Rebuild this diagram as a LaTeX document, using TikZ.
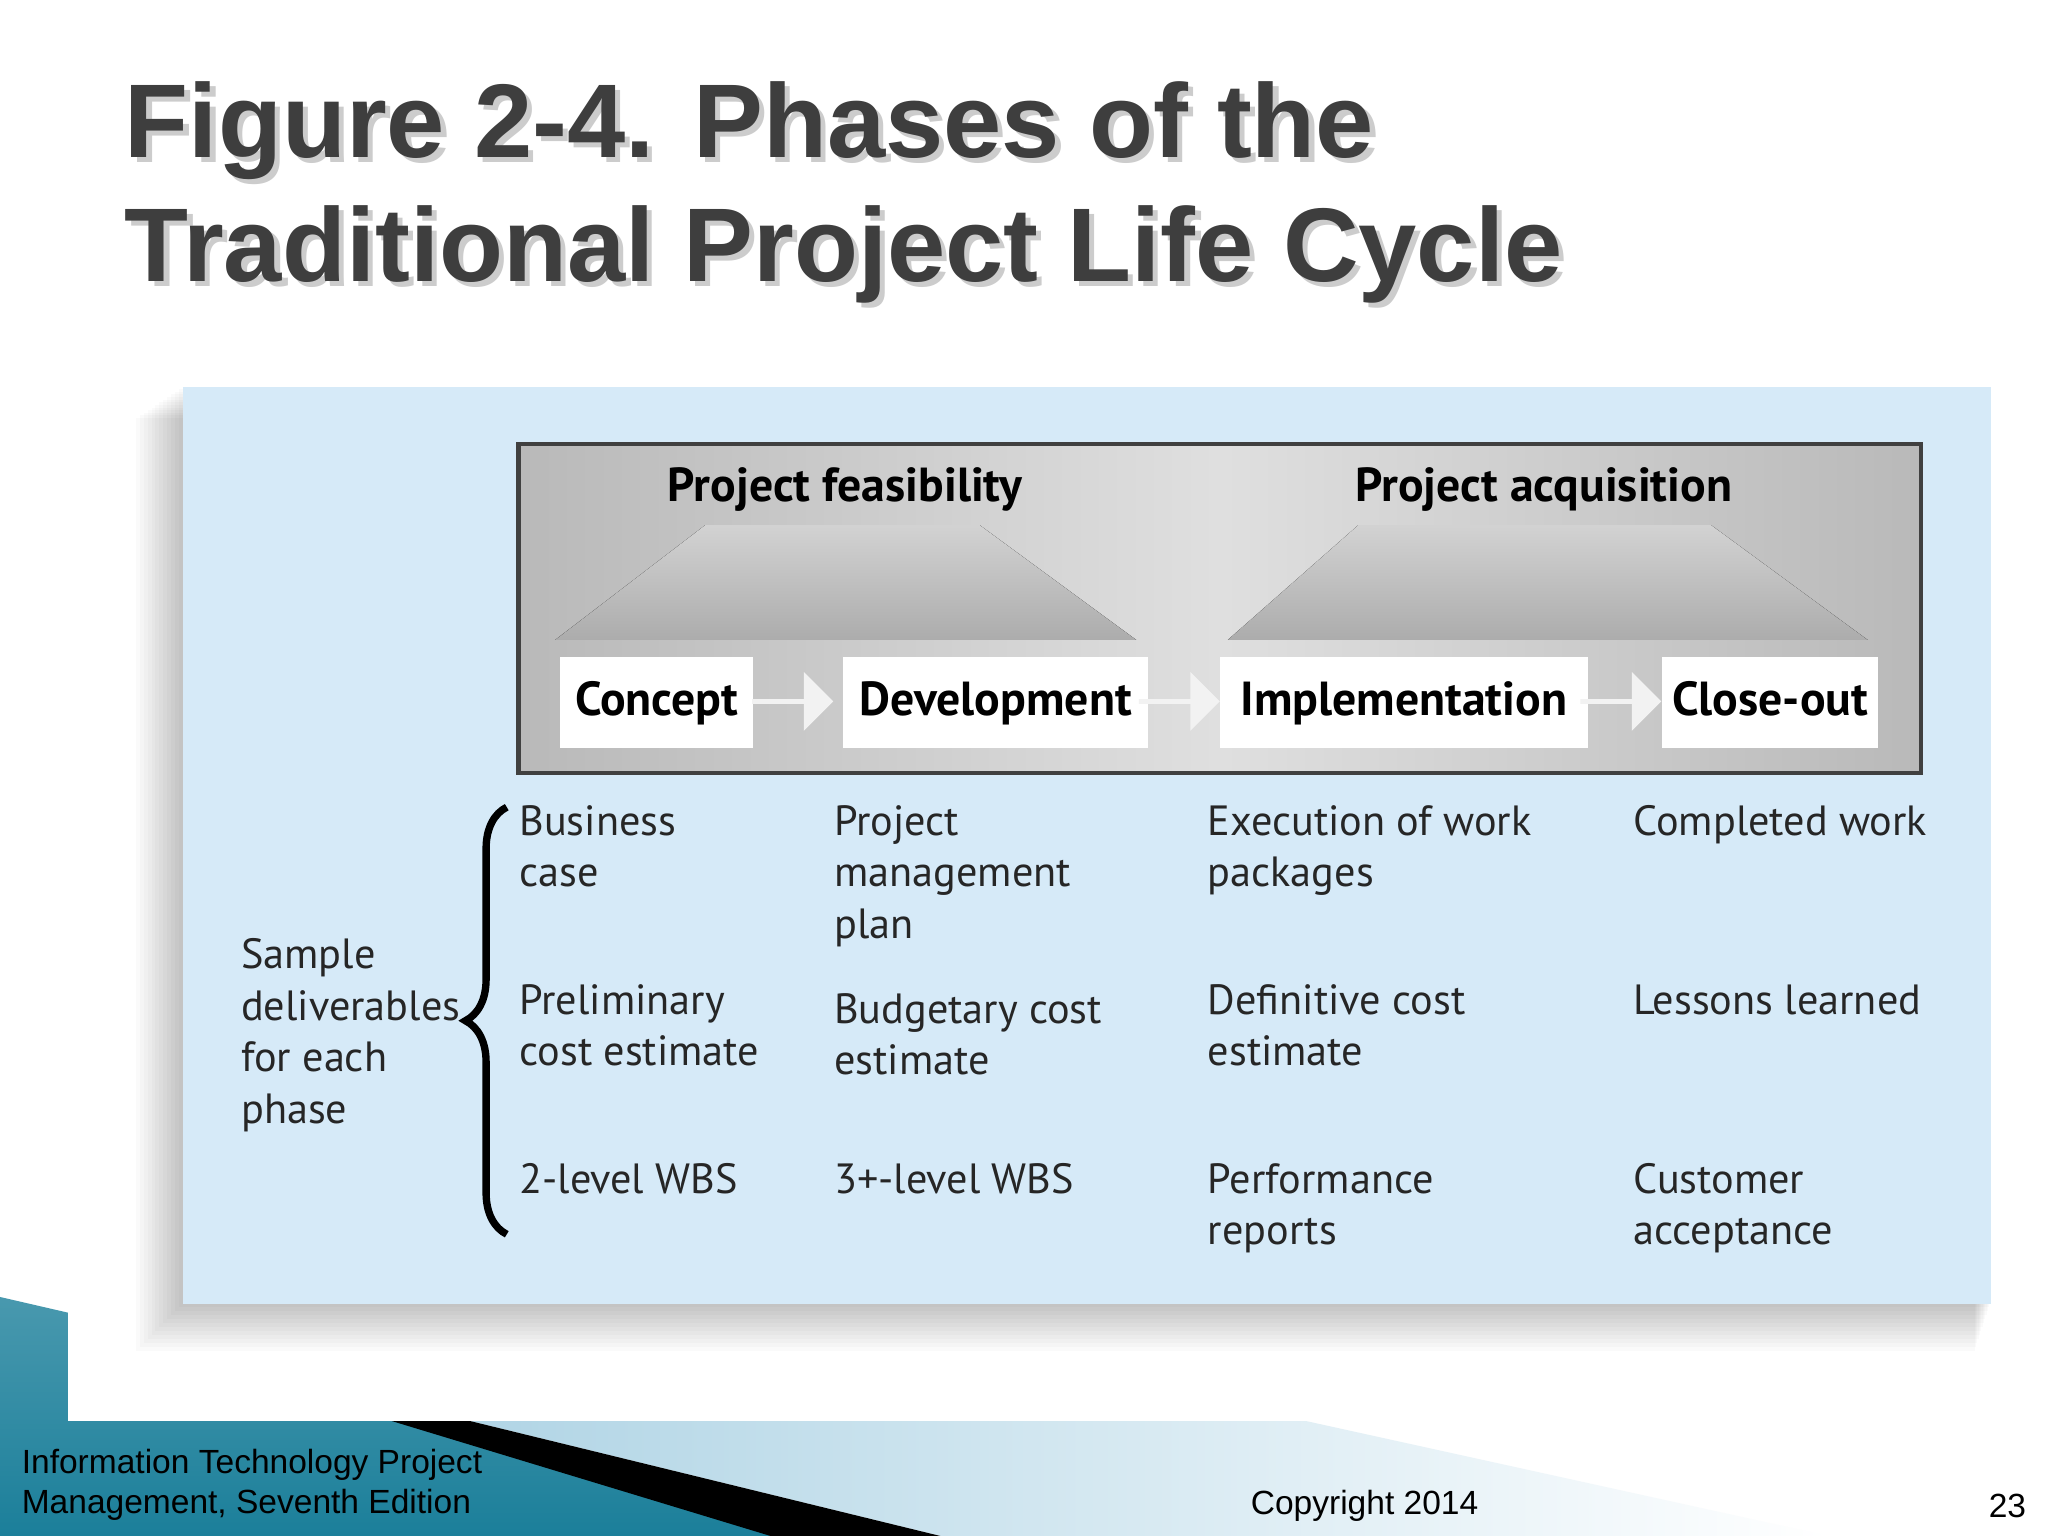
\documentclass[tikz,border=0pt]{standalone}
\usepackage{fontspec}
\setmainfont{Liberation Sans}
\newfontfamily\bodyf{PT Sans}
\usetikzlibrary{shapes.arrows,decorations.pathreplacing}
\definecolor{panel}{HTML}{D6EAF8}
\definecolor{teal}{HTML}{1B7F9A}
\definecolor{ttl}{HTML}{3E3E3E}
\tikzset{
 x=0.01cm,y=-0.01cm,
 phase/.style={fill=white,minimum height=0.70cm,inner sep=0pt,text height=0.26cm,text depth=0.06cm,font=\bodyf\bfseries\fontsize{10.4pt}{13pt}\selectfont,anchor=north west},
 deliv/.style={font=\bodyf\fontsize{9.2pt}{11.2pt}\selectfont,anchor=north west,align=left,inner sep=0pt,text=black!85},
 grp/.style={font=\bodyf\bfseries\fontsize{10.4pt}{13pt}\selectfont},
 trap/.style={top color=gray!35,bottom color=gray!65},
 parr/.style={single arrow,fill=white,minimum height=0.62cm,minimum width=0.45cm,single arrow head extend=0.08cm,inner sep=0pt,shape border rotate=0},
 ttlf/.style={font=\bfseries\fontsize{22.8pt}{27pt}\selectfont,text=ttl,anchor=west,inner sep=0pt},
 foot/.style={font=\fontsize{7.3pt}{8.8pt}\selectfont,anchor=west,align=left,inner sep=0pt}
}
\begin{document}
\begin{tikzpicture}
\useasboundingbox[fill=white] (0,0) rectangle (1568,1176);
% title
\node[ttlf,text=gray!40] at (99,104) {Figure 2-4. Phases of the};
\node[ttlf,text=gray!40] at (99,199) {Traditional Project Life Cycle};
\node[ttlf] (t1) at (95,100) {Figure 2-4. Phases of the};
\node[ttlf] (t2) at (95,195) {Traditional Project Life Cycle};
% soft shadow
\foreach \k in {1,...,12}{
  \fill[black,opacity=0.018] (140-3*\k,296+2*\k) rectangle (1524-\k,998+3*\k);
}
\fill[panel] (140,296) rectangle (1524,998);
% gray box
\draw[line width=0.9pt,draw=black!75,left color=gray!55,right color=gray!55,middle color=gray!25] (397,340) rectangle (1471,592);
\fill[trap] (540,402) -- (750,402) -- (870,490) -- (425,490) -- cycle;
\fill[trap] (1040,402) -- (1310,402) -- (1430,490) -- (940,490) -- cycle;
\node[grp] (pf) at (647,375) {Project feasibility};
\node[grp] (pa) at (1182,375) {Project acquisition};
\node[phase,minimum width=1.48cm] (c) at (428,502) {Concept};
\node[phase,minimum width=2.33cm] (d) at (645,502) {Development};
\node[phase,minimum width=2.82cm] (i) at (933,502) {Implementation};
\node[phase,minimum width=1.65cm] (co) at (1272,502) {Close-out};
\node[parr,fill=white!90!gray] at (606,537) {};
\node[parr,fill=white!90!gray] at (902,537) {};
\node[parr,fill=white!90!gray] at (1240,537) {};
% deliverables
\node[deliv] (s) at (184,718) {Sample\\deliverables\\for each\\phase};
\draw[line width=1.6pt,decorate,decoration={brace,amplitude=9pt,mirror}] (388,618) -- (388,945);
\node[deliv] at (397,616) {Business\\case};
\node[deliv] at (397,753) {Preliminary\\cost estimate};
\node[deliv] at (397,890) {2-level WBS};
\node[deliv] at (638,616) {Project\\management\\plan};
\node[deliv] at (638,760) {Budgetary cost\\estimate};
\node[deliv] at (638,890) {3+-level WBS};
\node[deliv] at (924,616) {Execution of work\\packages};
\node[deliv] at (924,753) {Definitive cost\\estimate};
\node[deliv] at (924,890) {Performance\\reports};
\node[deliv] at (1250,616) {Completed work};
\node[deliv] at (1250,753) {Lessons learned};
\node[deliv] at (1250,890) {Customer\\acceptance};
% footer
\shade[left color=panel!80!teal,right color=white] (360,1088) -- (1000,1088) -- (1400,1176) -- (720,1176) -- cycle;
\shade[top color=teal!80!white,bottom color=teal] (0,993) -- (52,1005) -- (52,1088) -- (305,1088) -- (600,1176) -- (0,1176) -- cycle;
\fill[black] (300,1088) -- (360,1088) -- (720,1176) -- (590,1176) -- cycle;
\node[foot] (f1) at (16,1137) {Information Technology Project\\Management, Seventh Edition};
\node[foot] (f2) at (957,1153) {Copyright 2014};
\node[foot] (f3) at (1522,1153) {23};
\end{tikzpicture}
\end{document}
